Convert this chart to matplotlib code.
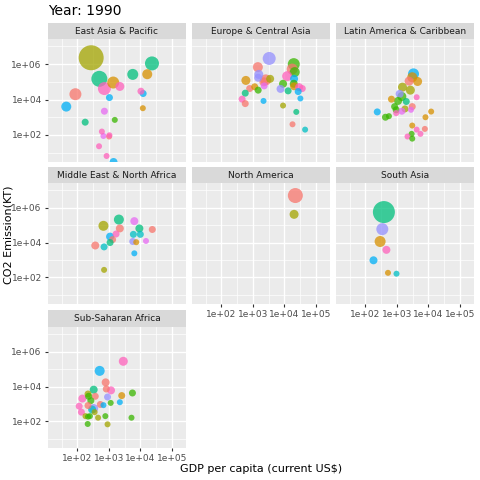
import numpy as np
import matplotlib
matplotlib.use("Agg")
import matplotlib.pyplot as plt
from matplotlib.ticker import FixedLocator, FixedFormatter

regions = ["East Asia & Pacific", "Europe & Central Asia", "Latin America & Caribbean",
           "Middle East & North Africa", "North America", "South Asia", "Sub-Saharan Africa"]

# per region: log10 GDP per capita, log10 CO2 (kt), marker diameter class, colour code
ea_x = [2.44,2.70,4.37,3.76,4.22,3.14,2.86,3.35,1.94,1.65,3.02,4.02,4.09,4.08,2.86,2.25,3.19,2.78,2.83,3.01,3.02,2.69,2.93,3.15]
ea_y = [6.36,5.17,6.04,5.42,5.43,4.96,4.62,4.74,4.30,3.60,4.11,4.47,4.34,3.51,3.34,2.72,2.85,2.19,1.94,1.91,1.98,1.36,0.81,0.47]
ea_s = [25,16,14,11,10,12,13,9,12,10,7,7,7,6,7,7,6,6,6,6,6,6,6,8]
ea_c = list("ltttoommrbbmbovtgmvrmmmb")

eu_x = [3.52,4.30,4.25,4.33,3.16,3.19,3.17,3.41,3.35,3.55,4.09,4.31,2.78,3.96,4.30,4.31,2.90,3.06,3.36,3.17,3.88,4.12,4.47,4.57,4.44,2.76,2.66,2.76,3.34,4.51,3.96,4.38,4.26,4.66]
eu_y = [6.32,6.00,5.72,5.55,5.83,5.42,5.23,5.11,5.00,5.17,5.32,5.17,5.08,4.89,4.89,4.75,4.62,4.72,4.77,4.53,4.60,4.49,4.70,4.62,4.45,4.36,4.02,3.77,3.92,4.06,3.66,3.30,2.60,2.30]
eu_s = [13,12,11,10,10,9,8,11,9,8,10,8,9,8,8,8,7,7,7,7,8,7,8,7,7,7,7,7,6,6,6,6,6,6]
eu_c = list("pgrgrpprrlmboggorovgptmmbtmrbbltrc")

la_x = [3.53,3.49,3.66,3.39,3.18,3.43,3.09,3.16,3.04,3.63,2.83,3.30,2.93,2.98,3.26,3.16,3.45,3.49,2.98,2.38,2.64,2.75,4.09,3.91,3.49,3.63,3.89,3.75,3.47,3.34,3.49]
la_y = [5.45,5.26,5.02,5.04,4.70,4.53,4.32,4.17,3.92,4.13,4.02,3.89,3.60,3.42,3.47,3.34,3.42,3.60,3.23,3.30,3.00,3.06,3.32,3.00,2.53,2.30,2.34,2.06,2.06,1.91,1.79]
la_s = [11,10,9,9,9,9,8,9,8,6,7,7,7,7,7,7,6,7,6,7,7,6,6,6,6,6,6,6,6,6,6]
la_c = list("boorllpggmotggjvvrmbggooomrmgmg".replace("j", "l"))

me_x = [3.32,2.83,3.35,3.81,3.97,4.38,3.23,3.04,3.78,4.00,3.12,3.04,3.76,4.18,3.87,2.57,2.85,3.81,2.85]
me_y = [5.32,4.96,4.81,5.23,4.81,4.75,4.49,4.34,4.47,4.47,4.17,4.00,4.06,4.09,4.02,3.83,3.75,3.38,2.43]
me_s = [10,10,8,8,8,7,7,8,7,7,7,7,7,6,6,8,7,6,6]
me_c = list("tlrvtrmbccrtpvorcbl")

na_x = [4.35,4.31]
na_y = [6.70,5.62]
na_s = [15,9]
na_c = list("rl")

sa_x = [2.59,2.54,2.47,2.67,2.26,2.72,2.99]
sa_y = [5.75,4.77,4.06,3.58,2.98,2.26,2.21]
sa_s = [22,12,11,8,8,6,6]
sa_c = list("tpomboc")

ss_x = [3.46,2.71,2.90,2.92,3.07,2.52,3.75,3.41,2.34,2.36,2.57,2.96,2.16,2.43,3.06,3.35,2.06,2.34,2.73,2.83,2.52,2.13,2.55,2.26,2.66,2.89,2.34,2.40,3.72,2.33,2.96,2.47]
ss_y = [5.45,4.90,4.24,3.86,3.78,3.82,3.63,3.48,3.57,3.44,3.44,3.40,3.31,3.19,3.06,3.10,2.87,2.91,2.97,2.93,2.74,2.53,2.53,2.30,2.21,2.30,2.27,2.30,2.21,1.85,1.83,2.68]
ss_s = [9,10,8,7,8,8,7,7,7,7,7,7,8,7,6,6,7,7,7,6,9,7,6,6,6,6,6,6,6,6,6,8]
ss_c = list("mbrrmtgolgrpmggbmrrbpmlllggggglc")

data = [(ea_x, ea_y, ea_s, ea_c), (eu_x, eu_y, eu_s, eu_c), (la_x, la_y, la_s, la_c),
        (me_x, me_y, me_s, me_c), (na_x, na_y, na_s, na_c), (sa_x, sa_y, sa_s, sa_c),
        (ss_x, ss_y, ss_s, ss_c)]

palette = {"r": "#F8766D", "o": "#D89000", "l": "#A3A500", "g": "#39B600", "t": "#00BF7D",
           "c": "#00BFC4", "b": "#00B0F6", "p": "#9590FF", "v": "#E76BF3", "m": "#FF62BC"}

W = H = 480
fig = plt.figure(figsize=(4.8, 4.8), dpi=100)
fig.patch.set_facecolor("white")

cols = [(48, 186), (192, 330), (336, 474)]
rows = [(23, 39, 162), (167, 183, 304), (310, 327, 448)]
xlim = (1.07, 5.45)
ylim = (0.47, 7.42)

def fx(px):
    return px / W
def fy(py):
    return 1 - py / H

for i, (xs, ys, ss, cs) in enumerate(data):
    r, c = divmod(i, 3)
    x0, x1 = cols[c]
    st, pt, pb = rows[r]
    ax = fig.add_axes([fx(x0), fy(pb), fx(x1) - fx(x0), (pb - pt) / H])
    ax.set_facecolor("#EBEBEB")
    ax.set_xscale("log")
    ax.set_yscale("log")
    ax.set_xlim(10 ** xlim[0], 10 ** xlim[1])
    ax.set_ylim(10 ** ylim[0], 10 ** ylim[1])
    for v in [1.5, 2.5, 3.5, 4.5]:
        ax.axvline(10 ** v, color="white", lw=0.5, zorder=0)
    for v in [1, 3, 5, 7]:
        ax.axhline(10 ** v, color="white", lw=0.5, zorder=0)
    for v in [2, 3, 4, 5]:
        ax.axvline(10 ** v, color="white", lw=1.0, zorder=0)
    for v in [2, 4, 6]:
        ax.axhline(10 ** v, color="white", lw=1.0, zorder=0)
    order = np.argsort(-np.array(ss))
    ax.scatter(10 ** np.array(xs)[order], 10 ** np.array(ys)[order],
               s=(np.array(ss)[order] * 0.72) ** 2,
               c=[palette[k] for k in np.array(cs)[order]], alpha=0.75, linewidths=0, zorder=3)
    ax.minorticks_off()
    for sp in ax.spines.values():
        sp.set_visible(False)
    ax.xaxis.set_major_locator(FixedLocator([1e2, 1e3, 1e4, 1e5]))
    ax.yaxis.set_major_locator(FixedLocator([1e2, 1e4, 1e6]))
    ax.xaxis.set_major_formatter(FixedFormatter(["1e+02", "1e+03", "1e+04", "1e+05"]))
    ax.yaxis.set_major_formatter(FixedFormatter(["1e+02", "1e+04", "1e+06"]))
    ax.tick_params(length=2.5, color="#333333", labelsize=6.5, labelcolor="#4D4D4D", pad=2)
    if c != 0:
        ax.tick_params(axis="y", left=False, labelleft=False)
    if i not in (4, 5, 6):
        ax.tick_params(axis="x", bottom=False, labelbottom=False)
    # strip
    sax = fig.add_axes([fx(x0), fy(pt), fx(x1) - fx(x0), (pt - st) / H])
    sax.set_facecolor("#D9D9D9")
    sax.set_xticks([]); sax.set_yticks([])
    for sp in sax.spines.values():
        sp.set_visible(False)
    sax.text(0.5, 0.5, regions[i], ha="center", va="center", fontsize=6.5, color="#1A1A1A",
             transform=sax.transAxes)

fig.text(fx(48), fy(11), "Year: 1990", fontsize=10, ha="left", va="center")
fig.text(fx(261), fy(469), "GDP per capita (current US$)", fontsize=8, ha="center", va="center")
fig.text(fx(9), fy(235), "CO2 Emission(KT)", fontsize=8, ha="center", va="center", rotation=90)

fig.savefig("out.png", dpi=100)
